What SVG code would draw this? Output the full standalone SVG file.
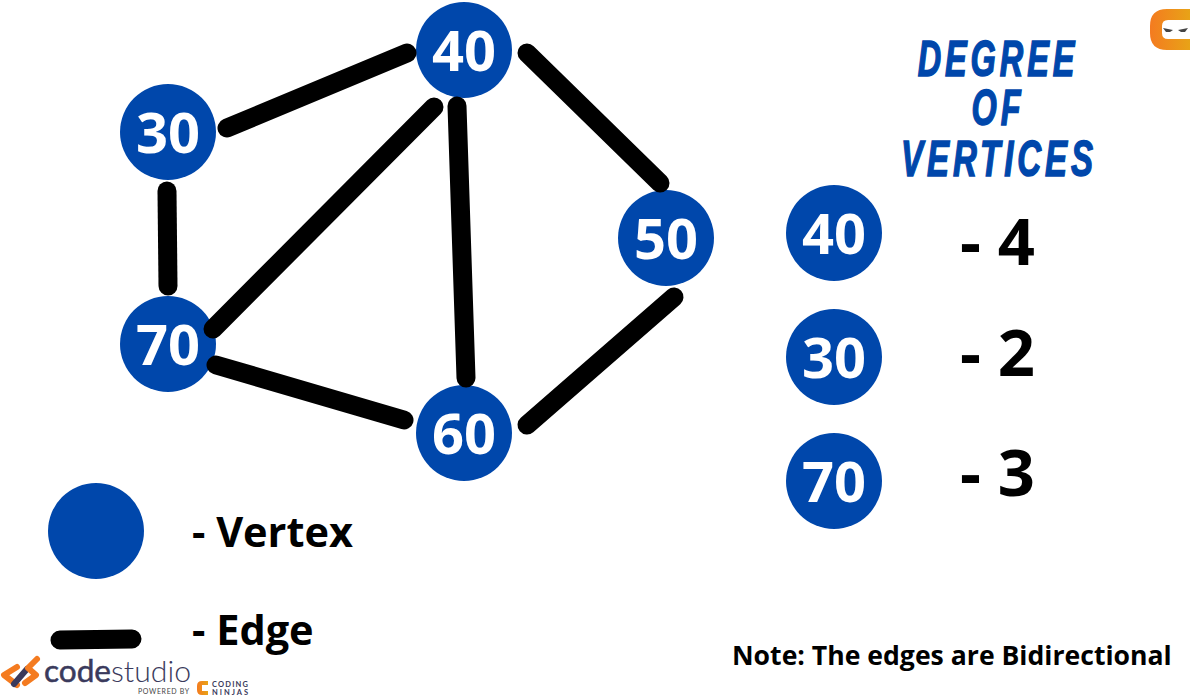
<svg xmlns="http://www.w3.org/2000/svg" width="1200" height="700" viewBox="0 0 1200 700">
<defs>
<style>
.v{fill:#0047ab}
.n{font:700 56px "Open Sans",sans-serif;fill:#fff;text-anchor:middle}
.l{font:700 41.5px "Open Sans",sans-serif;fill:#000}
.d{font:700 65px "Open Sans",sans-serif;fill:#000}
.h{font:italic 700 50px "Liberation Sans",sans-serif;fill:#0047ab;stroke:#0047ab;stroke-width:1.5;text-anchor:middle;letter-spacing:6px}
.e{stroke:#000;stroke-width:19;stroke-linecap:round;fill:none}
</style>
<linearGradient id="g" x1="0" x2="1" y1="0" y2="0"><stop offset="0" stop-color="#f47b20"/><stop offset="1" stop-color="#e8a317"/></linearGradient>
</defs>
<rect width="1200" height="700" fill="#fff"/>
<g id="n40"><circle class="v" cx="464" cy="50" r="48"/><text class="n" x="464" y="71">40</text></g>
<g id="n30"><circle class="v" cx="168" cy="132" r="48"/><text class="n" x="168" y="153">30</text></g>
<g id="n50"><circle class="v" cx="666" cy="238" r="48"/><text class="n" x="666" y="259">50</text></g>
<g id="n70"><circle class="v" cx="168" cy="344" r="48"/><text class="n" x="168" y="365">70</text></g>
<g id="n60"><circle class="v" cx="464" cy="433" r="48"/><text class="n" x="464" y="454">60</text></g>
<g id="connectors" class="e">
<line x1="227" y1="128" x2="407" y2="53"/>
<line x1="167" y1="191" x2="168" y2="286"/>
<line x1="213" y1="329" x2="434" y2="107"/>
<line x1="457" y1="106" x2="466" y2="378"/>
<line x1="527" y1="53" x2="660" y2="183"/>
<line x1="674" y1="297" x2="527" y2="425"/>
<line x1="216" y1="365" x2="404" y2="420"/>
</g>
<g id="title">
<text class="h" transform="translate(998 76) scale(.65 1)">DEGREE</text>
<text class="h" transform="translate(998 125) scale(.65 1)">OF</text>
<text class="h" transform="translate(999 176) scale(.66 1)">VERTICES</text>
</g>
<g id="d40"><circle class="v" cx="834" cy="233" r="48"/><text class="n" x="834" y="254">40</text><text class="d" x="960" y="265">- 4</text></g>
<g id="d30"><circle class="v" cx="834" cy="357" r="48"/><text class="n" x="834" y="378">30</text><text class="d" x="960" y="376">- 2</text></g>
<g id="d70"><circle class="v" cx="834" cy="481" r="48"/><text class="n" x="834" y="502">70</text><text class="d" x="960" y="496">- 3</text></g>
<g id="legend-vertex"><circle class="v" cx="96" cy="531" r="48"/><text class="l" x="192" y="547">- Vertex</text></g>
<g id="legend-edge"><line class="e" x1="60" y1="640" x2="132" y2="639"/><text class="l" x="192" y="645">- Edge</text></g>
<text id="note" x="732" y="665" font-family="Open Sans, sans-serif" font-weight="700" font-size="26.6" fill="#000">Note: The edges are Bidirectional</text>
<g id="cn-mark">
<path d="M1190 9H1167Q1150 9 1150 26V33Q1150 50 1167 50H1190V39H1168Q1162 39 1162 33V26Q1162 20 1168 20H1190Z" fill="url(#g)"/>
<path d="M1163 28L1173 30L1170 32H1166ZM1188 28L1178 30L1181 32H1185Z" fill="#444"/>
</g>
<g id="codestudio">
<path d="M17 667L4 675L17 685" fill="none" stroke="#f47b20" stroke-width="6" stroke-linejoin="round" stroke-linecap="round"/>
<path d="M14 684L27 669" fill="none" stroke="#3a3a5c" stroke-width="6" stroke-linecap="round"/>
<path d="M37 659L28 668L36 675L25 683" fill="none" stroke="#f47b20" stroke-width="6" stroke-linejoin="round" stroke-linecap="round"/>
<text x="44" y="682" font-family="Lato, sans-serif" font-weight="400" font-size="30" fill="#3a3a5c" stroke="#3a3a5c" stroke-width=".5" textLength="67" lengthAdjust="spacingAndGlyphs">code</text>
<text x="111" y="682" font-family="Lato, sans-serif" font-weight="300" font-size="30" fill="#3a3a5c" textLength="80" lengthAdjust="spacingAndGlyphs">studio</text>
<text x="138" y="694" font-family="Lato, sans-serif" font-size="7" letter-spacing=".9" fill="#444" textLength="52">POWERED BY</text>
<path d="M208 681H202Q197 681 197 686V690Q197 695 202 695H208V691H202V685H208Z" fill="url(#g)"/>
<text x="212" y="687" font-family="Lato, sans-serif" font-weight="700" font-size="7.5" fill="#3a3a5c" textLength="36">CODING</text>
<text x="212" y="695" font-family="Lato, sans-serif" font-weight="700" font-size="7.5" fill="#3a3a5c" textLength="36">NINJAS</text>
</g>
</svg>
